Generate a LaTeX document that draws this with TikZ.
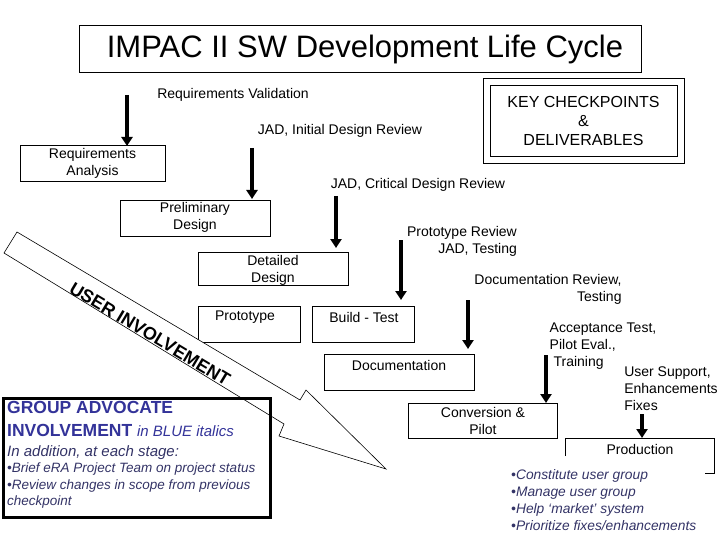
\documentclass[tikz,border=0pt]{standalone}
\usepackage{fontspec}
\usetikzlibrary{arrows.meta}
\setmainfont{Liberation Sans}
\definecolor{adv}{HTML}{333399}
\definecolor{advtxt}{HTML}{333366}
\begin{document}
\begin{tikzpicture}[x=1pt,y=-1pt,
  box/.style={draw,line width=0.8pt,inner sep=0pt},
  lbl/.style={font=\fontsize{14}{17}\selectfont,align=center,inner sep=0pt},
  darr/.style={line width=4pt,-{Triangle[length=9pt,width=11pt]}},
  btxt/.style={font=\fontsize{13.5}{16.5}\selectfont\itshape,text=advtxt,align=left,inner sep=0pt,anchor=north west}]
\useasboundingbox (0,0) rectangle (720,540);
% title
\node[box,minimum width=562pt,minimum height=47pt] (title) at (360,48.5) {};
\node[font=\fontsize{31}{34}\selectfont] (tt) at (365,49) {IMPAC II SW Development Life Cycle};
% key checkpoints
\node[box,minimum width=201pt,minimum height=85pt] (kout) at (583.5,120.5) {};
\node[box,minimum width=187pt,minimum height=71pt,lbl,font=\fontsize{16}{19}\selectfont] (key) at (583.5,120.5) {KEY CHECKPOINTS\\\&\\DELIVERABLES};
% boxes
\node[box,minimum width=145pt,minimum height=36pt] (ra) at (92.5,163) {};
\node[lbl] (rat) at (92.5,163) {Requirements\\Analysis};
\node[box,minimum width=150pt,minimum height=36pt] (pd) at (195,218) {};
\node[lbl] (pdt) at (195,217) {Preliminary\\Design};
\node[box,minimum width=150pt,minimum height=33pt] (dd) at (273,268.5) {};
\node[lbl] (ddt) at (273,270) {Detailed\\Design};
\node[box,minimum width=102pt,minimum height=36pt] (pr) at (249,324) {};
\node[lbl] (prt) at (245,317) {Prototype};
\node[box,minimum width=102pt,minimum height=36pt] (bt) at (363,324) {};
\node[lbl] (btt) at (364,317) {Build - Test};
\node[box,minimum width=150pt,minimum height=36pt] (doc) at (399,372) {};
\node[lbl] (doct) at (399,365) {Documentation};
\node[box,minimum width=149pt,minimum height=35pt] (cp) at (483,420.5) {};
\node[lbl] (cpt) at (483,421) {Conversion \&\\Pilot};
\coordinate (p1) at (565,456);
\coordinate (p2) at (565,438);
\coordinate (p3) at (714,438);
\coordinate (p4) at (714,473);
\coordinate (p5) at (705,473);
\draw[line width=0.8pt] (p1) -- (p2) -- (p3) -- (p4) -- (p5);
\node[lbl] (prod) at (640,449) {Production};
% checkpoint arrows and labels
\coordinate (a1s) at (127,95); \coordinate (a1e) at (127,146);
\draw[darr] (a1s) -- (a1e);
\node[lbl] (l1) at (233,95) {Requirements Validation};
\coordinate (a2s) at (252,148); \coordinate (a2e) at (252,199);
\draw[darr] (a2s) -- (a2e);
\node[lbl] (l2) at (340,131) {JAD, Initial Design Review};
\coordinate (a3s) at (336,196); \coordinate (a3e) at (336,248);
\draw[darr] (a3s) -- (a3e);
\node[lbl] (l3) at (418,185) {JAD, Critical Design Review};
\coordinate (a4s) at (401,240); \coordinate (a4e) at (401,300);
\draw[darr] (a4s) -- (a4e);
\node[lbl,align=right] (l4) at (462,241.5) {Prototype Review\\JAD, Testing};
\coordinate (a5s) at (468,300); \coordinate (a5e) at (468,349);
\draw[darr] (a5s) -- (a5e);
\node[lbl,align=right] (l5) at (548,289.5) {Documentation Review,\\Testing};
\coordinate (a6s) at (546,355); \coordinate (a6e) at (546,403);
\draw[darr] (a6s) -- (a6e);
\node[lbl,align=left] (l6) at (603,346) {Acceptance Test,\\Pilot Eval.,\\\ Training};
\coordinate (a7s) at (642,414); \coordinate (a7e) at (642,438);
\draw[darr] (a7s) -- (a7e);
\node[lbl,align=left] (l7) at (671,389) {User Support,\\Enhancements\\Fixes};
% user involvement arrow
\draw[line width=0.6pt,fill=white] (17,232) -- (300,400) -- (306,390) -- (386,469) -- (279,436) -- (284,424) -- (4,253) -- cycle;
\node[font=\fontsize{18}{18}\selectfont\bfseries,rotate=-31] (ui) at (150,334) {USER INVOLVEMENT};
% group advocate box
\node[draw,line width=3pt,minimum width=267pt,minimum height=119pt,inner sep=0pt] (ga) at (136.5,457.5) {};
\node[inner sep=0pt,anchor=north west,align=left,text=adv,font=\fontsize{17.5}{23}\selectfont] (gat) at (7,401) {\textbf{GROUP ADVOCATE}\\\textbf{INVOLVEMENT} \itshape\fontsize{15}{23}\selectfont in BLUE italics};
\node[btxt,font=\fontsize{15}{16}\selectfont\itshape] (ina) at (7,445) {In addition, at each stage:};
\node[btxt] (gab) at (7,463) {\textbullet Brief eRA Project Team on project status\\\textbullet Review changes in scope from\ previous\\checkpoint};
\node[btxt,font=\fontsize{13.8}{17}\selectfont\itshape] (pb) at (511,469) {\textbullet Constitute user group\\\textbullet Manage user group\\\textbullet Help `market' system\\\textbullet Prioritize fixes/enhancements};
\end{tikzpicture}
\end{document}
